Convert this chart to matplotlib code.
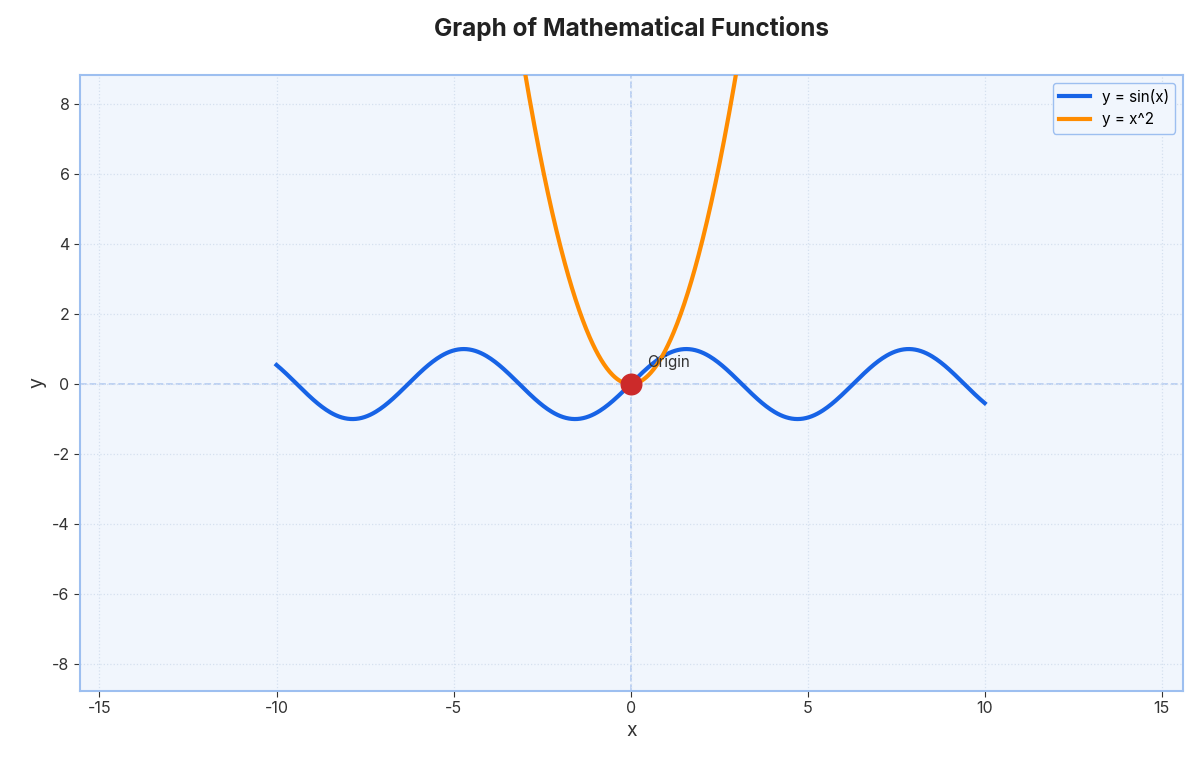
import numpy as np
import matplotlib
matplotlib.use("Agg")
import matplotlib.pyplot as plt

plt.rcParams['font.family'] = ['Inter', 'DejaVu Sans']
plt.rcParams['axes.unicode_minus'] = False

x_sin = np.linspace(-10, 10, 500)
y_sin = np.sin(x_sin)
x_sq = np.linspace(-3, 3, 300)
y_sq = x_sq ** 2
origin = (0, 0)
labels = ["y = sin(x)", "y = x^2"]

fig = plt.figure(figsize=(12, 7.7), dpi=100)
ax = fig.add_axes([80/1200, 1-691/770, 1103/1200, 616/770])
ax.set_facecolor('#f1f6fd')
ax.plot(x_sin, y_sin, color='#1763e6', lw=3, label=labels[0], zorder=3)
ax.plot(x_sq, y_sq, color='#ff8c00', lw=3, label=labels[1], zorder=3)
ax.axhline(0, color='#b9cff3', ls='--', lw=1.3, zorder=1)
ax.axvline(0, color='#b9cff3', ls='--', lw=1.3, zorder=1)
ax.scatter([origin[0]], [origin[1]], s=220, color='#cc2a2a', zorder=5)
ax.annotate("Origin", origin, xytext=(12, 12), textcoords='offset points',
            fontsize=11, color='#333333')
ax.set_xlim(-15.55, 15.6)
ax.set_ylim(-8.77, 8.83)
ax.set_xticks(np.arange(-15, 16, 5))
ax.set_yticks(np.arange(-8, 9, 2))
ax.grid(True, ls=':', color='#d5e0ef', lw=0.9)
for s in ax.spines.values():
    s.set_color('#9dbff0'); s.set_linewidth(1.5)
ax.tick_params(colors='#333333', labelsize=11.5, length=4)
ax.set_xlabel("x", fontsize=14, color='#333333')
ax.set_ylabel("y", fontsize=14, color='#333333')
ax.set_title("Graph of Mathematical Functions", fontsize=17.5, fontweight='bold',
             color='#222222', pad=28)
leg = ax.legend(loc='upper right', fontsize=11, edgecolor='#9dbff0',
                facecolor='#f1f6fd', framealpha=1)
fig.savefig("out.png", dpi=100)
